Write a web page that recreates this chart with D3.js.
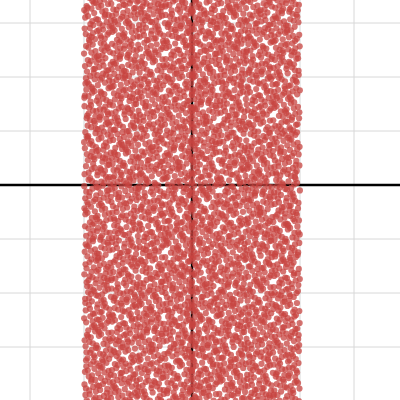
<!DOCTYPE html><html><head><script src="https://cdn.jsdelivr.net/npm/d3@7"></script>
<style>body{margin:0}svg{display:block}</style></head><body><svg width="400" height="400"></svg><script>
// Visible domain of the graph paper (units)
const xDomain = [-192/54, 208/54];
const yDomain = [-215/54, 185/54];
const gridTicks = [-4,-3,-2,-1,0,1,2,3,4];
// Point cloud extent: x in [-2,2], y spanning the view; plus a thin stripe at x = 0
const cloudX = [-2, 2];
const cloudY = [-4.1, 3.5];
const cloudCount = 3700;
const stripeCount = 50;
// Deterministic Halton sampling of the cloud
function halton(i, b){let f=1,r=0;while(i>0){f/=b;r+=f*(i%b);i=Math.floor(i/b);}return r;}
const pts = [];
for(let i=1;i<=cloudCount;i++) pts.push([cloudX[0]+(cloudX[1]-cloudX[0])*halton(i+20,2), cloudY[0]+(cloudY[1]-cloudY[0])*halton(i+20,3)]);
for(let i=1;i<=stripeCount;i++) pts.push([0, cloudY[0]+(cloudY[1]-cloudY[0])*halton(i,5)]);

const svg=d3.select("svg");
const x=d3.scaleLinear().domain(xDomain).range([0,400]);
const y=d3.scaleLinear().domain(yDomain).range([400,0]);
svg.append("rect").attr("width",400).attr("height",400).attr("fill","#fff");
svg.selectAll(".gx").data(gridTicks).join("line").attr("x1",d=>x(d)).attr("x2",d=>x(d)).attr("y1",0).attr("y2",400).attr("stroke","#d8d8d8").attr("stroke-width",1);
svg.selectAll(".gy").data(gridTicks).join("line").attr("y1",d=>y(d)).attr("y2",d=>y(d)).attr("x1",0).attr("x2",400).attr("stroke","#d8d8d8").attr("stroke-width",1);
svg.append("line").attr("x1",0).attr("x2",400).attr("y1",y(0)).attr("y2",y(0)).attr("stroke","#000").attr("stroke-width",2.5);
svg.append("line").attr("y1",0).attr("y2",400).attr("x1",x(0)).attr("x2",x(0)).attr("stroke","#000").attr("stroke-width",2.5);
svg.selectAll("circle").data(pts).join("circle").attr("cx",d=>x(d[0])).attr("cy",d=>y(d[1])).attr("r",3.1).attr("fill","#c74440").attr("fill-opacity",0.75);
</script></body></html>
